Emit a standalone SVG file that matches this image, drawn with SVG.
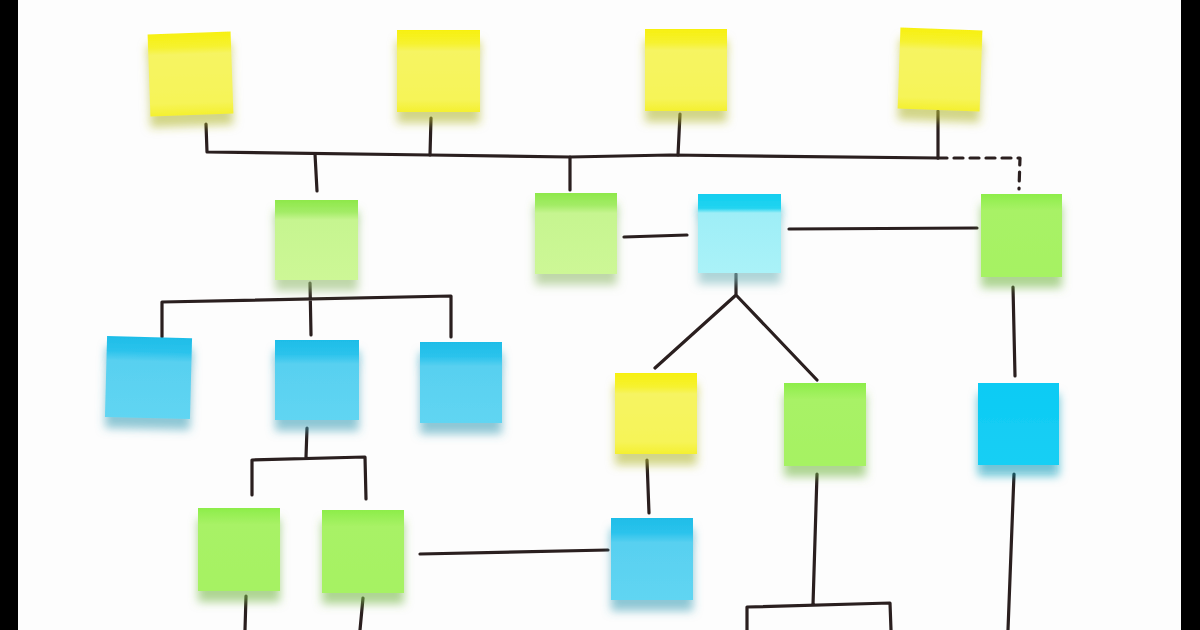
<svg xmlns="http://www.w3.org/2000/svg" width="1200" height="630" viewBox="0 0 1200 630">
<defs>
<filter id="sh" x="-25%" y="-20%" width="150%" height="170%">
<feOffset in="SourceGraphic" dy="11" result="o"/>
<feGaussianBlur in="o" stdDeviation="5" result="b"/>
<feColorMatrix in="b" type="matrix" values="0.5 0 0 0 0  0 0.55 0 0 0  0 0 0.55 0 0  0 0 0 0.6 0" result="s"/>
<feMerge><feMergeNode in="s"/><feMergeNode in="SourceGraphic"/></feMerge>
</filter>
<linearGradient id="gy" x1="0" y1="0" x2="0" y2="1">
<stop offset="0" stop-color="#f7f010"/><stop offset="0.17" stop-color="#f6f230"/><stop offset="0.26" stop-color="#f6f462"/><stop offset="0.85" stop-color="#f6f458"/><stop offset="1" stop-color="#f4f030"/>
</linearGradient>
<linearGradient id="ggl" x1="0" y1="0" x2="0" y2="1">
<stop offset="0" stop-color="#8ee84a"/><stop offset="0.15" stop-color="#a3ec66"/><stop offset="0.25" stop-color="#c6f590"/><stop offset="1" stop-color="#cdf796"/>
</linearGradient>
<linearGradient id="gg" x1="0" y1="0" x2="0" y2="1">
<stop offset="0" stop-color="#8ded4a"/><stop offset="0.2" stop-color="#a8f266"/><stop offset="1" stop-color="#a6f263"/>
</linearGradient>
<linearGradient id="gbl" x1="0" y1="0" x2="0" y2="1">
<stop offset="0" stop-color="#12ceef"/><stop offset="0.18" stop-color="#22d4f0"/><stop offset="0.24" stop-color="#9eeef7"/><stop offset="1" stop-color="#aaf2f8"/>
</linearGradient>
<linearGradient id="gb" x1="0" y1="0" x2="0" y2="1">
<stop offset="0" stop-color="#1ebde8"/><stop offset="0.18" stop-color="#2bc3ec"/><stop offset="0.3" stop-color="#58d0f0"/><stop offset="1" stop-color="#60d5f2"/>
</linearGradient>
<linearGradient id="gbd" x1="0" y1="0" x2="0" y2="1">
<stop offset="0" stop-color="#0ccbf4"/><stop offset="1" stop-color="#18cff4"/>
</linearGradient>
<style>
.note{filter:url(#sh)}
.y{fill:url(#gy)}
.gl{fill:url(#ggl)}
.g{fill:url(#gg)}
.bl{fill:url(#gbl)}
.b{fill:url(#gb)}
.bd{fill:url(#gbd)}
.ln{fill:none;stroke:#2a1f1f;stroke-width:3.2;stroke-linecap:round;stroke-linejoin:round}
.dash{stroke-dasharray:9 7}
</style>
</defs>
<rect width="1200" height="630" fill="#fdfdfd"/>
<rect x="0" y="0" width="18" height="630" fill="#000"/>
<rect x="1181" y="0" width="19" height="630" fill="#000"/>

<g id="connectors">
<path class="ln" d="M206 124 L207 152 L430 155 L570 157 L670 155 L938 158"/>
<path class="ln" d="M431 118 L430 155"/>
<path class="ln" d="M680 114 L678 155"/>
<path class="ln" d="M938 111 L938 158"/>
<path class="ln dash" d="M938 158 L1020 158 L1019 189"/>
<path class="ln" d="M315 154 L317 191"/>
<path class="ln" d="M570 157 L570 190"/>
<path class="ln" d="M624 237 L687 235"/>
<path class="ln" d="M789 229 L977 228"/>
<path class="ln" d="M736 274 L736 295 L655 368 M736 295 L817 380"/>
<path class="ln" d="M1013 287 L1015 376"/>
<path class="ln" d="M310 283 L311 335 M162 337 L162 302 L451 296 L451 337"/>
<path class="ln" d="M307 428 L306 457 M252 495 L252 460 L365 457 L366 499"/>
<path class="ln" d="M420 554 L608 550"/>
<path class="ln" d="M246 596 L245 630 M363 598 L360 630"/>
<path class="ln" d="M647 460 L649 513"/>
<path class="ln" d="M817 474 L813 605 M747 630 L747 607 L890 603 L891 630"/>
<path class="ln" d="M1014 474 L1008 630"/>
</g>

<g id="yellow1" class="note"><rect class="y" x="149" y="33" width="83" height="82" transform="rotate(-2 190 74)"/></g>
<g id="yellow2" class="note"><rect class="y" x="397" y="30" width="83" height="82"/></g>
<g id="yellow3" class="note"><rect class="y" x="645" y="29" width="82" height="82"/></g>
<g id="yellow4" class="note"><rect class="y" x="899" y="29" width="82" height="81" transform="rotate(2 940 70)"/></g>

<g id="green1" class="note"><rect class="gl" x="275" y="200" width="83" height="80"/></g>
<g id="green2" class="note"><rect class="gl" x="535" y="193" width="82" height="81"/></g>
<g id="blue1" class="note"><rect class="bl" x="698" y="194" width="83" height="79"/></g>
<g id="green3" class="note"><rect class="g" x="981" y="194" width="81" height="83"/></g>

<g id="blue2" class="note"><rect class="b" x="106" y="337" width="85" height="81" transform="rotate(1.5 148 378)"/></g>
<g id="blue3" class="note"><rect class="b" x="275" y="340" width="84" height="80"/></g>
<g id="blue4" class="note"><rect class="b" x="420" y="342" width="82" height="81"/></g>
<g id="yellow5" class="note"><rect class="y" x="615" y="373" width="82" height="81"/></g>
<g id="green4" class="note"><rect class="g" x="784" y="383" width="82" height="83"/></g>
<g id="blue5" class="note"><rect class="bd" x="978" y="383" width="81" height="82"/></g>

<g id="green5" class="note"><rect class="g" x="198" y="508" width="82" height="83"/></g>
<g id="green6" class="note"><rect class="g" x="322" y="510" width="82" height="83"/></g>
<g id="blue6" class="note"><rect class="b" x="611" y="518" width="82" height="82"/></g>
</svg>
